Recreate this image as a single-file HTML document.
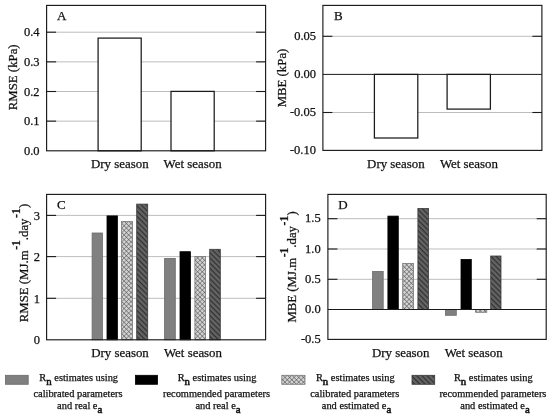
<!DOCTYPE html><html><head><meta charset="utf-8"><style>html,body{margin:0;padding:0;background:#fff}svg{display:block}text{font-family:"Liberation Serif",serif;fill:#111;stroke:#111;stroke-width:0.25px}</style></head><body>
<svg width="550" height="418" viewBox="0 0 550 418">
<defs>
<pattern id="xh" width="3.25" height="3.25" patternUnits="userSpaceOnUse" patternTransform="rotate(45)"><rect width="3.25" height="3.25" fill="#d2d2d2"/><path d="M0 0H3.25M0 0V3.25" stroke="#5c5c5c" stroke-width="1.05"/></pattern>
<pattern id="dg" width="3.7" height="3.7" patternUnits="userSpaceOnUse" patternTransform="rotate(45)"><rect width="3.7" height="3.7" fill="#646464"/><path d="M0 0.6H3.7" stroke="#303030" stroke-width="1.25"/></pattern>
</defs>
<rect width="550" height="418" fill="#fff"/>
<line x1="46.6" x2="265.6" y1="121.15" y2="121.15" stroke="#bdbdbd" stroke-width="1"/>
<line x1="46.6" x2="265.6" y1="91.50" y2="91.50" stroke="#bdbdbd" stroke-width="1"/>
<line x1="46.6" x2="265.6" y1="61.85" y2="61.85" stroke="#bdbdbd" stroke-width="1"/>
<line x1="46.6" x2="265.6" y1="32.20" y2="32.20" stroke="#bdbdbd" stroke-width="1"/>
<rect x="98.10" y="38.10" width="43.10" height="112.70" fill="#fff" stroke="#1a1a1a" stroke-width="1.25"/>
<rect x="171.00" y="91.40" width="43.20" height="59.40" fill="#fff" stroke="#1a1a1a" stroke-width="1.25"/>
<text x="39.6" y="155.00" font-size="12.5" text-anchor="end">0.0</text>
<line x1="46.6" x2="56.1" y1="121.15" y2="121.15" stroke="#1a1a1a" stroke-width="1.1"/>
<line x1="256.1" x2="265.6" y1="121.15" y2="121.15" stroke="#1a1a1a" stroke-width="1.1"/>
<text x="39.6" y="125.35" font-size="12.5" text-anchor="end">0.1</text>
<line x1="46.6" x2="56.1" y1="91.50" y2="91.50" stroke="#1a1a1a" stroke-width="1.1"/>
<line x1="256.1" x2="265.6" y1="91.50" y2="91.50" stroke="#1a1a1a" stroke-width="1.1"/>
<text x="39.6" y="95.70" font-size="12.5" text-anchor="end">0.2</text>
<line x1="46.6" x2="56.1" y1="61.85" y2="61.85" stroke="#1a1a1a" stroke-width="1.1"/>
<line x1="256.1" x2="265.6" y1="61.85" y2="61.85" stroke="#1a1a1a" stroke-width="1.1"/>
<text x="39.6" y="66.05" font-size="12.5" text-anchor="end">0.3</text>
<line x1="46.6" x2="56.1" y1="32.20" y2="32.20" stroke="#1a1a1a" stroke-width="1.1"/>
<line x1="256.1" x2="265.6" y1="32.20" y2="32.20" stroke="#1a1a1a" stroke-width="1.1"/>
<text x="39.6" y="36.40" font-size="12.5" text-anchor="end">0.4</text>
<rect x="46.6" y="5.4" width="219.00" height="145.40" fill="none" stroke="#1a1a1a" stroke-width="1.15"/>
<text x="56.90" y="19.80" font-size="13">A</text>
<line x1="322.9" x2="541.9" y1="36.30" y2="36.30" stroke="#bdbdbd" stroke-width="1"/>
<line x1="322.9" x2="541.9" y1="112.50" y2="112.50" stroke="#bdbdbd" stroke-width="1"/>
<rect x="374.40" y="74.40" width="43.40" height="63.60" fill="#fff" stroke="#1a1a1a" stroke-width="1.25"/>
<rect x="447.10" y="74.40" width="43.30" height="34.70" fill="#fff" stroke="#1a1a1a" stroke-width="1.25"/>
<line x1="322.9" x2="541.9" y1="74.40" y2="74.40" stroke="#1a1a1a" stroke-width="1"/>
<line x1="322.9" x2="332.4" y1="36.30" y2="36.30" stroke="#1a1a1a" stroke-width="1.1"/>
<line x1="532.4" x2="541.9" y1="36.30" y2="36.30" stroke="#1a1a1a" stroke-width="1.1"/>
<text x="316.0" y="39.90" font-size="12.5" text-anchor="end">0.05</text>
<text x="316.0" y="78.00" font-size="12.5" text-anchor="end">0.00</text>
<line x1="322.9" x2="332.4" y1="112.50" y2="112.50" stroke="#1a1a1a" stroke-width="1.1"/>
<line x1="532.4" x2="541.9" y1="112.50" y2="112.50" stroke="#1a1a1a" stroke-width="1.1"/>
<text x="316.0" y="116.10" font-size="12.5" text-anchor="end">-0.05</text>
<text x="316.0" y="154.00" font-size="12.5" text-anchor="end">-0.10</text>
<rect x="322.9" y="5.4" width="219.00" height="145.00" fill="none" stroke="#1a1a1a" stroke-width="1.15"/>
<text x="334.10" y="19.80" font-size="13">B</text>
<line x1="46.6" x2="265.6" y1="298.30" y2="298.30" stroke="#bdbdbd" stroke-width="1"/>
<line x1="46.6" x2="265.6" y1="256.60" y2="256.60" stroke="#bdbdbd" stroke-width="1"/>
<line x1="46.6" x2="265.6" y1="215.40" y2="215.40" stroke="#bdbdbd" stroke-width="1"/>
<rect x="92.10" y="233.00" width="10.30" height="106.80" fill="#808080" stroke="#6a6a6a" stroke-width="0.8"/>
<rect x="107.00" y="215.90" width="10.40" height="123.90" fill="#000" stroke="#000" stroke-width="0.8"/>
<rect x="121.60" y="221.40" width="10.90" height="118.40" fill="url(#xh)" stroke="#777" stroke-width="0.8"/>
<rect x="136.70" y="204.10" width="11.00" height="135.70" fill="url(#dg)" stroke="#3a3a3a" stroke-width="0.8"/>
<rect x="164.60" y="258.40" width="10.70" height="81.40" fill="#808080" stroke="#6a6a6a" stroke-width="0.8"/>
<rect x="180.00" y="251.70" width="10.40" height="88.10" fill="#000" stroke="#000" stroke-width="0.8"/>
<rect x="194.90" y="256.40" width="10.60" height="83.40" fill="url(#xh)" stroke="#777" stroke-width="0.8"/>
<rect x="209.70" y="249.30" width="10.60" height="90.50" fill="url(#dg)" stroke="#3a3a3a" stroke-width="0.8"/>
<text x="40.0" y="344.00" font-size="12.5" text-anchor="end">0</text>
<line x1="46.6" x2="56.1" y1="298.30" y2="298.30" stroke="#1a1a1a" stroke-width="1.1"/>
<line x1="256.1" x2="265.6" y1="298.30" y2="298.30" stroke="#1a1a1a" stroke-width="1.1"/>
<text x="40.0" y="302.50" font-size="12.5" text-anchor="end">1</text>
<line x1="46.6" x2="56.1" y1="256.60" y2="256.60" stroke="#1a1a1a" stroke-width="1.1"/>
<line x1="256.1" x2="265.6" y1="256.60" y2="256.60" stroke="#1a1a1a" stroke-width="1.1"/>
<text x="40.0" y="260.80" font-size="12.5" text-anchor="end">2</text>
<line x1="46.6" x2="56.1" y1="215.40" y2="215.40" stroke="#1a1a1a" stroke-width="1.1"/>
<line x1="256.1" x2="265.6" y1="215.40" y2="215.40" stroke="#1a1a1a" stroke-width="1.1"/>
<text x="40.0" y="219.60" font-size="12.5" text-anchor="end">3</text>
<rect x="46.6" y="194.4" width="219.00" height="145.40" fill="none" stroke="#1a1a1a" stroke-width="1.15"/>
<text x="56.90" y="208.80" font-size="13">C</text>
<line x1="327.9" x2="546.2" y1="218.70" y2="218.70" stroke="#bdbdbd" stroke-width="1"/>
<line x1="327.9" x2="546.2" y1="249.00" y2="249.00" stroke="#bdbdbd" stroke-width="1"/>
<line x1="327.9" x2="546.2" y1="279.30" y2="279.30" stroke="#bdbdbd" stroke-width="1"/>
<rect x="372.60" y="271.40" width="10.60" height="38.10" fill="#808080" stroke="#6a6a6a" stroke-width="0.8"/>
<rect x="387.90" y="216.10" width="10.40" height="93.40" fill="#000" stroke="#000" stroke-width="0.8"/>
<rect x="402.70" y="263.40" width="10.80" height="46.10" fill="url(#xh)" stroke="#777" stroke-width="0.8"/>
<rect x="417.90" y="208.50" width="10.60" height="101.00" fill="url(#dg)" stroke="#3a3a3a" stroke-width="0.8"/>
<rect x="445.40" y="309.50" width="10.90" height="5.80" fill="#808080" stroke="#6a6a6a" stroke-width="0.8"/>
<rect x="461.00" y="259.40" width="10.30" height="50.10" fill="#000" stroke="#000" stroke-width="0.8"/>
<rect x="475.60" y="309.50" width="11.20" height="2.80" fill="url(#xh)" stroke="#777" stroke-width="0.8"/>
<rect x="490.70" y="256.00" width="10.30" height="53.50" fill="url(#dg)" stroke="#3a3a3a" stroke-width="0.8"/>
<line x1="327.9" x2="546.2" y1="309.50" y2="309.50" stroke="#1a1a1a" stroke-width="1"/>
<line x1="327.9" x2="337.4" y1="218.70" y2="218.70" stroke="#1a1a1a" stroke-width="1.1"/>
<line x1="536.7" x2="546.2" y1="218.70" y2="218.70" stroke="#1a1a1a" stroke-width="1.1"/>
<text x="320.7" y="222.40" font-size="12.5" text-anchor="end">1.5</text>
<line x1="327.9" x2="337.4" y1="249.00" y2="249.00" stroke="#1a1a1a" stroke-width="1.1"/>
<line x1="536.7" x2="546.2" y1="249.00" y2="249.00" stroke="#1a1a1a" stroke-width="1.1"/>
<text x="320.7" y="252.70" font-size="12.5" text-anchor="end">1.0</text>
<line x1="327.9" x2="337.4" y1="279.30" y2="279.30" stroke="#1a1a1a" stroke-width="1.1"/>
<line x1="536.7" x2="546.2" y1="279.30" y2="279.30" stroke="#1a1a1a" stroke-width="1.1"/>
<text x="320.7" y="283.00" font-size="12.5" text-anchor="end">0.5</text>
<text x="320.7" y="313.20" font-size="12.5" text-anchor="end">0.0</text>
<text x="320.7" y="343.30" font-size="12.5" text-anchor="end">-0.5</text>
<rect x="327.9" y="194.4" width="218.30" height="145.00" fill="none" stroke="#1a1a1a" stroke-width="1.15"/>
<text x="338.20" y="208.80" font-size="13">D</text>
<text x="119.8" y="168.0" font-size="12.9" text-anchor="middle">Dry season</text>
<text x="395.9" y="168.0" font-size="12.9" text-anchor="middle">Dry season</text>
<text x="120" y="357.4" font-size="12.9" text-anchor="middle">Dry season</text>
<text x="400.7" y="357.4" font-size="12.9" text-anchor="middle">Dry season</text>
<text x="192.6" y="168.0" font-size="12.9" text-anchor="middle">Wet season</text>
<text x="468.9" y="168.0" font-size="12.9" text-anchor="middle">Wet season</text>
<text x="193" y="357.4" font-size="12.9" text-anchor="middle">Wet season</text>
<text x="473.7" y="357.4" font-size="12.9" text-anchor="middle">Wet season</text>
<text transform="translate(16.5,77.3) rotate(-90)" font-size="12.8" text-anchor="middle">RMSE (kPa)</text>
<text transform="translate(285.7,78.0) rotate(-90)" font-size="12.8" text-anchor="middle">MBE (kPa)</text>
<text transform="translate(27.9,322.2) rotate(-90)" font-size="12.8" text-anchor="start">RMSE (MJ.m<tspan dy="-8" dx="0.6" font-size="11.5" font-weight="bold">-1</tspan><tspan dy="8">.day</tspan><tspan dy="-8" dx="0.6" font-size="11.5" font-weight="bold">-1</tspan><tspan dy="8" dx="0.4">)</tspan></text>
<text transform="translate(296.2,322.6) rotate(-90)" font-size="12.8" text-anchor="start">MBE (MJ.m<tspan dy="-8" dx="0.6" font-size="11.5" font-weight="bold">-1</tspan><tspan dy="8">.day</tspan><tspan dy="-8" dx="0.6" font-size="11.5" font-weight="bold">-1</tspan><tspan dy="8" dx="0.4">)</tspan></text>
<rect x="5.4" y="375.3" width="22.8" height="9" fill="#808080" stroke="#6a6a6a" stroke-width="0.8"/>
<text x="78.7" y="381" font-size="10.4" stroke-width="0.3" text-anchor="middle">R<tspan dy="4" font-size="10.8" stroke-width="0.55">n</tspan><tspan dy="-4"> estimates using</tspan></text>
<text x="78" y="396.5" font-size="10.4" stroke-width="0.3" text-anchor="middle">calibrated parameters</text>
<text x="79.7" y="409.3" font-size="10.4" stroke-width="0.3" text-anchor="middle">and real e<tspan dy="4" font-size="10.8" stroke-width="0.55">a</tspan></text>
<rect x="135.4" y="375.3" width="22.2" height="9" fill="#000" stroke="#000" stroke-width="0.8"/>
<text x="217" y="381" font-size="10.4" stroke-width="0.3" text-anchor="middle">R<tspan dy="4" font-size="10.8" stroke-width="0.55">n</tspan><tspan dy="-4"> estimates using</tspan></text>
<text x="216.5" y="396.5" font-size="10.4" stroke-width="0.3" text-anchor="middle">recommended parameters</text>
<text x="218" y="409.3" font-size="10.4" stroke-width="0.3" text-anchor="middle">and real e<tspan dy="4" font-size="10.8" stroke-width="0.55">a</tspan></text>
<rect x="281.79999999999995" y="375.3" width="23.2" height="9" fill="url(#xh)" stroke="#777" stroke-width="0.8"/>
<text x="355.3" y="381" font-size="10.4" stroke-width="0.3" text-anchor="middle">R<tspan dy="4" font-size="10.8" stroke-width="0.55">n</tspan><tspan dy="-4"> estimates using</tspan></text>
<text x="354.8" y="396.5" font-size="10.4" stroke-width="0.3" text-anchor="middle">calibrated parameters</text>
<text x="356.5" y="409.3" font-size="10.4" stroke-width="0.3" text-anchor="middle">and estimated e<tspan dy="4" font-size="10.8" stroke-width="0.55">a</tspan></text>
<rect x="412.0" y="375.3" width="22.7" height="9" fill="url(#dg)" stroke="#3a3a3a" stroke-width="0.8"/>
<text x="493.3" y="381" font-size="10.4" stroke-width="0.3" text-anchor="middle">R<tspan dy="4" font-size="10.8" stroke-width="0.55">n</tspan><tspan dy="-4"> estimates using</tspan></text>
<text x="492.9" y="396.5" font-size="10.4" stroke-width="0.3" text-anchor="middle">recommended parameters</text>
<text x="495" y="409.3" font-size="10.4" stroke-width="0.3" text-anchor="middle">and estimated e<tspan dy="4" font-size="10.8" stroke-width="0.55">a</tspan></text>
</svg></body></html>
